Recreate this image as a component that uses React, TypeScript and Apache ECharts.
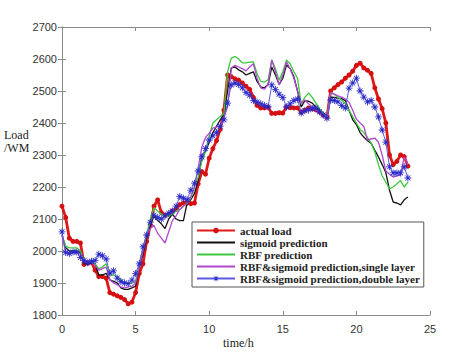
import React, { useEffect, useRef } from "react";
import * as echarts from "echarts";

const times: number[] = Array.from({ length: 95 }, (_, i) => i * 0.25);

const actualLoad = [
  2140, 2105, 2040, 2030, 2030, 2025, 1958, 1962, 1965, 1940, 1920, 1920, 1915, 1870, 1865, 1860,
  1855, 1848, 1835, 1840, 1870, 1930, 1960, 2030, 2080, 2140, 2160, 2120, 2112, 2115, 2125, 2130,
  2145, 2150, 2150, 2148, 2150, 2210, 2248, 2240, 2290, 2320, 2345, 2380, 2440, 2550, 2545, 2538,
  2534, 2525, 2515, 2505, 2480, 2455, 2447, 2447, 2450, 2430, 2430, 2432, 2431, 2450, 2448, 2447,
  2447, 2434, 2440, 2447, 2445, 2441, 2435, 2425, 2419, 2500, 2510, 2520, 2528, 2540, 2550, 2562,
  2580, 2587, 2572, 2565, 2555, 2510, 2475, 2445, 2400, 2300, 2270, 2280, 2300, 2295, 2265,
];

const sigmoidPred = [
  2050, 2010, 2000, 2000, 2000, 1995, 1960, 1960, 1962, 1960, 1925, 1925, 1930, 1910, 1905, 1900,
  1885, 1880, 1880, 1885, 1890, 1950, 1990, 2040, 2080, 2110, 2095, 2085, 2070, 2100, 2115, 2100,
  2095, 2095, 2150, 2160, 2180, 2220, 2300, 2310, 2340, 2370, 2390, 2410, 2425, 2500, 2572, 2575,
  2566, 2560, 2550, 2555, 2560, 2530, 2513, 2510, 2520, 2575, 2550, 2520, 2540, 2581, 2570, 2545,
  2500, 2450, 2470, 2468, 2462, 2450, 2440, 2430, 2419, 2481, 2480, 2478, 2476, 2470, 2440, 2410,
  2395, 2370, 2356, 2345, 2337, 2315, 2294, 2270, 2245, 2190, 2153, 2150, 2144, 2160, 2169,
];

const rbfPred = [
  2050, 2015, 2010, 2010, 2010, 2000, 1970, 1970, 1970, 1960, 1945, 1950, 1960, 1925, 1925, 1920,
  1910, 1900, 1898, 1900, 1905, 1960, 2010, 2050, 2100, 2135, 2125, 2115, 2110, 2110, 2115, 2125,
  2130, 2140, 2150, 2165, 2200, 2230, 2280, 2310, 2360, 2400, 2410, 2420, 2430, 2560, 2603, 2608,
  2600, 2588, 2588, 2590, 2591, 2555, 2530, 2528, 2535, 2597, 2570, 2534, 2560, 2597, 2585, 2560,
  2540, 2460, 2480, 2494, 2480, 2462, 2445, 2430, 2419, 2494, 2490, 2480, 2472, 2460, 2440, 2420,
  2400, 2380, 2370, 2355, 2337, 2310, 2270, 2235, 2215, 2195, 2200, 2210, 2220, 2200, 2215,
];

const singleLayerPred = [
  2050, 1995, 1990, 1995, 1995, 1990, 1965, 1970, 1965, 1955, 1940, 1945, 1950, 1910, 1900, 1895,
  1888, 1885, 1888, 1890, 1900, 1950, 2000, 2050, 2070, 2080, 2055, 2040, 2025, 2060, 2095, 2110,
  2130, 2140, 2150, 2170, 2200, 2260, 2325, 2355, 2368, 2384, 2388, 2390, 2420, 2450, 2572, 2580,
  2575, 2570, 2563, 2575, 2585, 2540, 2510, 2506, 2520, 2597, 2560, 2519, 2550, 2591, 2570, 2540,
  2500, 2462, 2472, 2460, 2450, 2440, 2435, 2425, 2419, 2494, 2490, 2485, 2481, 2475, 2465, 2440,
  2412, 2400, 2390, 2347, 2350, 2353, 2340, 2300, 2250, 2240, 2231, 2235, 2237, 2294, 2270,
];

const doubleLayerPred = [
  2060, 1995, 1992, 1997, 1997, 1980, 1970, 1963, 1968, 1970, 1990, 1985, 1975, 1931, 1938, 1915,
  1905, 1900, 1898, 1909, 1930, 1960, 2013, 2050, 2090, 2112, 2105, 2100, 2110, 2118, 2125, 2140,
  2170, 2165, 2160, 2190, 2212, 2250, 2294, 2320, 2347, 2360, 2370, 2390, 2410, 2462, 2519, 2525,
  2520, 2510, 2495, 2487, 2470, 2466, 2460, 2455, 2450, 2519, 2505, 2490, 2480, 2450, 2460, 2470,
  2475, 2431, 2438, 2441, 2445, 2447, 2435, 2425, 2415, 2472, 2470, 2466, 2455, 2447, 2509, 2525,
  2540, 2500, 2481, 2466, 2470, 2450, 2419, 2378, 2340, 2263, 2244, 2244, 2244, 2263, 2228,
];

const seriesNames = [
  "actual load",
  "sigmoid prediction",
  "RBF prediction",
  "RBF&sigmoid prediction,single layer",
  "RBF&sigmoid prediction,double layer",
];

const xTicks = [0, 5, 10, 15, 20, 25];
const yTicks = [1800, 1900, 2000, 2100, 2200, 2300, 2400, 2500, 2600, 2700];

const asterisk =
  "path://M-0.6,-5 L0.6,-5 L0.6,5 L-0.6,5 Z M-5,-0.6 L5,-0.6 L5,0.6 L-5,0.6 Z M-3.9,-3.1 L-3.1,-3.9 L3.9,3.1 L3.1,3.9 Z M3.1,-3.9 L3.9,-3.1 L-3.1,3.9 L-3.9,3.1 Z";

const pair = (vals: number[]) => vals.map((v, i) => [times[i], v]);

export default function App() {
  const ref = useRef<HTMLDivElement>(null);
  useEffect(() => {
    if (!ref.current) return;
    document.body.style.margin = "0";
    const chart = echarts.init(ref.current, null, { renderer: "svg" });
    const axisColor = "#8a8a8a";
    const labelStyle = { color: "#333", fontFamily: "Liberation Sans, Arial, sans-serif", fontSize: 11 };
    const noMarker = { color: "transparent", borderWidth: 0, opacity: 0 };
    const serifText = { fontFamily: "Liberation Serif, serif", fontSize: 12, fill: "#222" };
    chart.setOption({
      animation: false,
      backgroundColor: "#fff",
      grid: { left: 62, right: 44, top: 27, bottom: 39 },
      xAxis: [
        {
          type: "value",
          min: xTicks[0],
          max: xTicks[xTicks.length - 1],
          interval: 5,
          position: "bottom",
          axisLine: { show: true, lineStyle: { color: axisColor } },
          axisTick: { show: true, inside: true, length: 4, lineStyle: { color: axisColor } },
          axisLabel: { ...labelStyle, margin: 8, formatter: (v: number) => String(v) },
          splitLine: { show: false },
        },
        {
          type: "value",
          min: xTicks[0],
          max: xTicks[xTicks.length - 1],
          interval: 5,
          position: "top",
          axisLine: { show: true, lineStyle: { color: axisColor } },
          axisTick: { show: true, inside: true, length: 4, lineStyle: { color: axisColor } },
          axisLabel: { show: false },
          splitLine: { show: false },
        },
      ],
      yAxis: [
        {
          type: "value",
          min: yTicks[0],
          max: yTicks[yTicks.length - 1],
          interval: 100,
          position: "left",
          axisLine: { show: true, lineStyle: { color: axisColor } },
          axisTick: { show: true, inside: true, length: 4, lineStyle: { color: axisColor } },
          axisLabel: { ...labelStyle, margin: 5, formatter: (v: number) => String(v) },
          splitLine: { show: false },
        },
        {
          type: "value",
          min: yTicks[0],
          max: yTicks[yTicks.length - 1],
          interval: 100,
          position: "right",
          axisLine: { show: true, lineStyle: { color: axisColor } },
          axisTick: { show: true, inside: true, length: 4, lineStyle: { color: axisColor } },
          axisLabel: { show: false },
          splitLine: { show: false },
        },
      ],
      legend: {
        orient: "vertical",
        left: 192,
        top: 222,
        itemWidth: 38,
        itemHeight: 7,
        itemGap: 1,
        padding: [3, 4, 3, 4],
        borderColor: "#555",
        borderWidth: 1,
        backgroundColor: "#fff",
        textStyle: { fontFamily: "Liberation Serif, serif", fontSize: 11, color: "#222", fontWeight: "bold" },
        data: [
          { name: seriesNames[0] },
          { name: seriesNames[1], itemStyle: noMarker },
          { name: seriesNames[2], itemStyle: noMarker },
          { name: seriesNames[3], itemStyle: noMarker },
          { name: seriesNames[4] },
        ],
      },
      graphic: [
        {
          type: "text",
          x: 4,
          y: 129,
          style: { ...serifText, text: "Load", textAlign: "left", textVerticalAlign: "top" },
        },
        {
          type: "text",
          x: 4,
          y: 142,
          style: { ...serifText, text: "/WM", textAlign: "left", textVerticalAlign: "top" },
        },
        {
          type: "text",
          x: 223,
          y: 337,
          style: { ...serifText, text: "time/h", textAlign: "left", textVerticalAlign: "top" },
        },
      ],
      series: [
        {
          name: seriesNames[0],
          type: "line",
          data: pair(actualLoad),
          symbol: "circle",
          symbolSize: 5,
          showSymbol: true,
          lineStyle: { color: "#e01818", width: 2.8 },
          itemStyle: { color: "#d41010" },
          z: 2,
        },
        {
          name: seriesNames[1],
          type: "line",
          data: pair(sigmoidPred),
          symbol: "none",
          lineStyle: { color: "#111", width: 1.3 },
          itemStyle: { color: "#111" },
          z: 3,
        },
        {
          name: seriesNames[2],
          type: "line",
          data: pair(rbfPred),
          symbol: "none",
          lineStyle: { color: "#3cc83c", width: 1.3 },
          itemStyle: { color: "#3cc83c" },
          z: 3,
        },
        {
          name: seriesNames[3],
          type: "line",
          data: pair(singleLayerPred),
          symbol: "none",
          lineStyle: { color: "#b048d0", width: 1.3 },
          itemStyle: { color: "#b048d0" },
          z: 4,
        },
        {
          name: seriesNames[4],
          type: "line",
          data: pair(doubleLayerPred),
          symbol: asterisk,
          symbolSize: 7,
          showSymbol: true,
          lineStyle: { color: "#5a5ae0", width: 1 },
          itemStyle: { color: "#2828c8" },
          z: 5,
        },
      ],
    });
    return () => chart.dispose();
  }, []);
  return <div ref={ref} style={{ width: 474, height: 354 }} />;
}
